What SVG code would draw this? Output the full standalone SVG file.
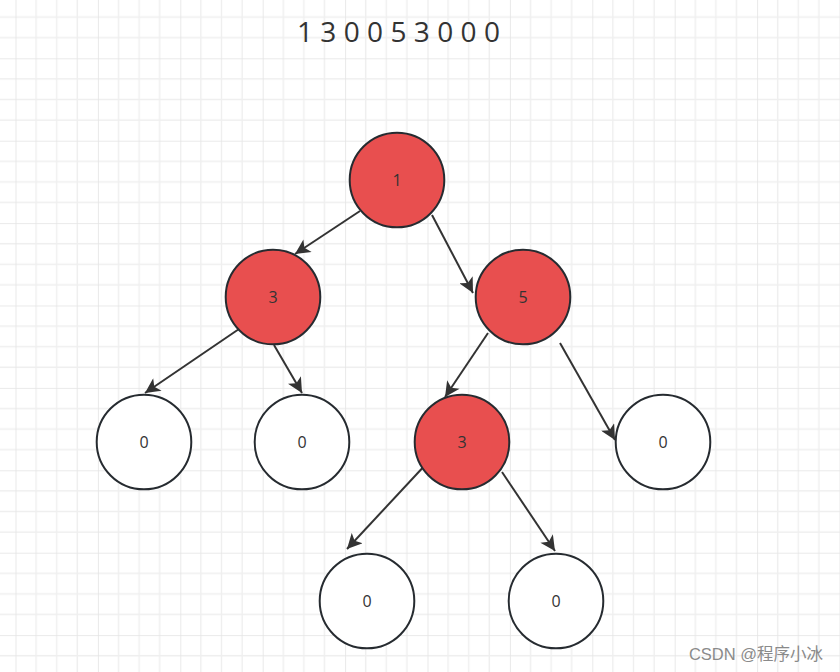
<svg xmlns="http://www.w3.org/2000/svg" width="840" height="672" viewBox="0 0 840 672">
<defs>
<pattern id="grid" x="15.5" y="58.3" width="82.4" height="82.4" patternUnits="userSpaceOnUse">
<path d="M20.6 0V82.4M41.2 0V82.4M61.8 0V82.4M0 20.6H82.4M0 41.2H82.4M0 61.8H82.4" stroke="#efefef" stroke-width="1.4" fill="none"/>
<path d="M0 0V82.4M0 0H82.4" stroke="#e4e4e4" stroke-width="1.6" fill="none"/>
</pattern>
<marker id="arr" viewBox="0 0 10 10" refX="10" refY="5" markerWidth="8" markerHeight="7.5" markerUnits="strokeWidth" orient="auto">
<path d="M0 0L10 5L0 10L2.5 5Z" fill="#333"/>
</marker>
<style>
.n circle{stroke:#262b30;stroke-width:2}
.red circle{fill:#e84f4f}
.wht circle{fill:#ffffff}
.n text{font-family:"Open Sans","Noto Sans",sans-serif;font-size:16px;fill:#333;text-anchor:middle}
#edges line{stroke:#333;stroke-width:2;marker-end:url(#arr)}
</style>
</defs>
<rect width="840" height="672" fill="#fff"/>
<rect width="840" height="672" fill="url(#grid)"/>
<text x="398.5" y="42" font-family="'Open Sans','Noto Sans',sans-serif" font-size="28" fill="#333" text-anchor="middle" textLength="203" lengthAdjust="spacing">1 3 0 0 5 3 0 0 0</text>
<g id="edges">
<line x1="360" y1="211" x2="295" y2="254"/>
<line x1="432" y1="215" x2="473" y2="293"/>
<line x1="239" y1="329" x2="145" y2="393"/>
<line x1="274" y1="345" x2="302" y2="393"/>
<line x1="488" y1="333" x2="445" y2="397"/>
<line x1="560" y1="343" x2="615" y2="440"/>
<line x1="428" y1="462" x2="347" y2="549"/>
<line x1="502" y1="472" x2="555" y2="551"/>
</g>
<g id="n1" class="n red"><circle cx="397" cy="180" r="47.3"/><text x="397" y="186">1</text></g>
<g id="n3a" class="n red"><circle cx="273" cy="297" r="47.3"/><text x="273" y="303">3</text></g>
<g id="n5" class="n red"><circle cx="523" cy="297" r="47.3"/><text x="523" y="303">5</text></g>
<g id="n0a" class="n wht"><circle cx="144" cy="442" r="47.3"/><text x="144" y="448">0</text></g>
<g id="n0b" class="n wht"><circle cx="302" cy="442" r="47.3"/><text x="302" y="448">0</text></g>
<g id="n3b" class="n red"><circle cx="462" cy="442" r="47.3"/><text x="462" y="448">3</text></g>
<g id="n0c" class="n wht"><circle cx="663" cy="442" r="47.3"/><text x="663" y="448">0</text></g>
<g id="n0d" class="n wht"><circle cx="367" cy="601" r="47.3"/><text x="367" y="607">0</text></g>
<g id="n0e" class="n wht"><circle cx="556" cy="601" r="47.3"/><text x="556" y="607">0</text></g>
<text x="823" y="660" font-family="'Liberation Sans','Noto Sans CJK SC',sans-serif" font-size="16.5" fill="#8a8a8a" text-anchor="end">CSDN @程序小冰</text>
</svg>
